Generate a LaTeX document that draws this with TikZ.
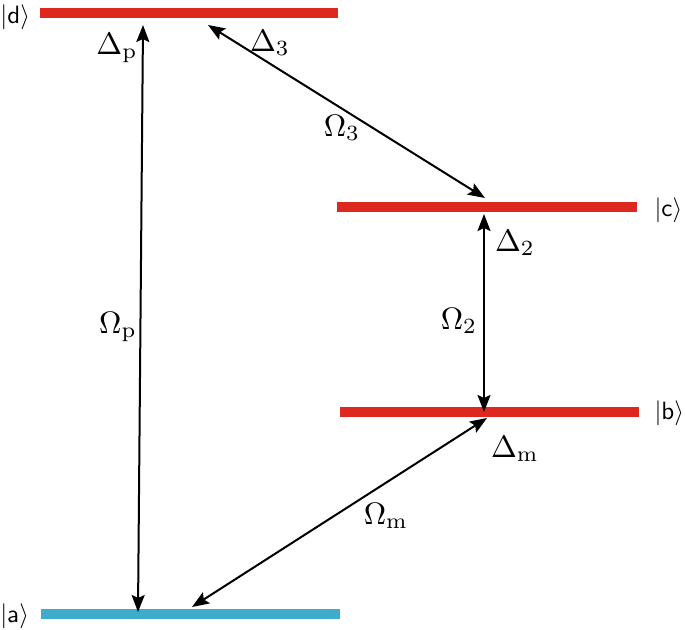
\documentclass[tikz,border=0pt]{standalone}
\usetikzlibrary{arrows.meta}
\definecolor{levelred}{RGB}{220,40,30}
\definecolor{levelblue}{RGB}{64,172,204}

\begin{document}
\begin{tikzpicture}[x=1pt,y=-1pt,
  level/.style={line width=10pt, levelred},
  trans/.style={line width=2pt, {Stealth[length=17pt,width=13pt,inset=3pt]}-{Stealth[length=17pt,width=13pt,inset=3pt]}},
  lab/.style={scale=3.1, inner sep=0pt},
  ket/.style={scale=2.5, inner sep=0pt}]
  \useasboundingbox (0,0) rectangle (685,629);
  % levels
  \coordinate (d1) at (40,13);  \coordinate (d2) at (338,13);
  \coordinate (c1) at (337,207); \coordinate (c2) at (637,207);
  \coordinate (b1) at (340,412); \coordinate (b2) at (639,412);
  \coordinate (a1) at (41,614);  \coordinate (a2) at (340,614);
  \draw[level] (d1) -- (d2);
  \draw[level] (c1) -- (c2);
  \draw[level] (b1) -- (b2);
  \draw[level, levelblue] (a1) -- (a2);
  \node[ket, anchor=west] (kd) at (0,17)  {$|\mathsf{d}\rangle$};
  \node[ket, anchor=west] (kc) at (654,210) {$|\mathsf{c}\rangle$};
  \node[ket, anchor=west] (kb) at (654,413) {$|\mathsf{b}\rangle$};
  \node[ket, anchor=west] (ka) at (0,616) {$|\mathsf{a}\rangle$};
  % transitions
  \coordinate (pt) at (143,25);  \coordinate (pb) at (138,612);
  \coordinate (t3) at (208,25);  \coordinate (b3) at (485,198);
  \coordinate (t2) at (484,214); \coordinate (b2e) at (484,412);
  \coordinate (tm) at (487,418); \coordinate (bm) at (192,607);
  \draw[trans] (pt) -- (pb);
  \draw[trans] (t3) -- (b3);
  \draw[trans] (t2) -- (b2e);
  \draw[trans] (tm) -- (bm);
  % labels
  \node[lab] (dp) at (117,48)  {$\Delta_\mathrm{p}$};
  \node[lab] (op) at (118,327) {$\Omega_\mathrm{p}$};
  \node[lab] (d3) at (270,43)  {$\Delta_3$};
  \node[lab] (o3) at (342,128) {$\Omega_3$};
  \node[lab] (d2l) at (515,243) {$\Delta_2$};
  \node[lab] (o2) at (459,321) {$\Omega_2$};
  \node[lab] (dm) at (515,449) {$\Delta_\mathrm{m}$};
  \node[lab] (om) at (386,516) {$\Omega_\mathrm{m}$};
\end{tikzpicture}
\end{document}
